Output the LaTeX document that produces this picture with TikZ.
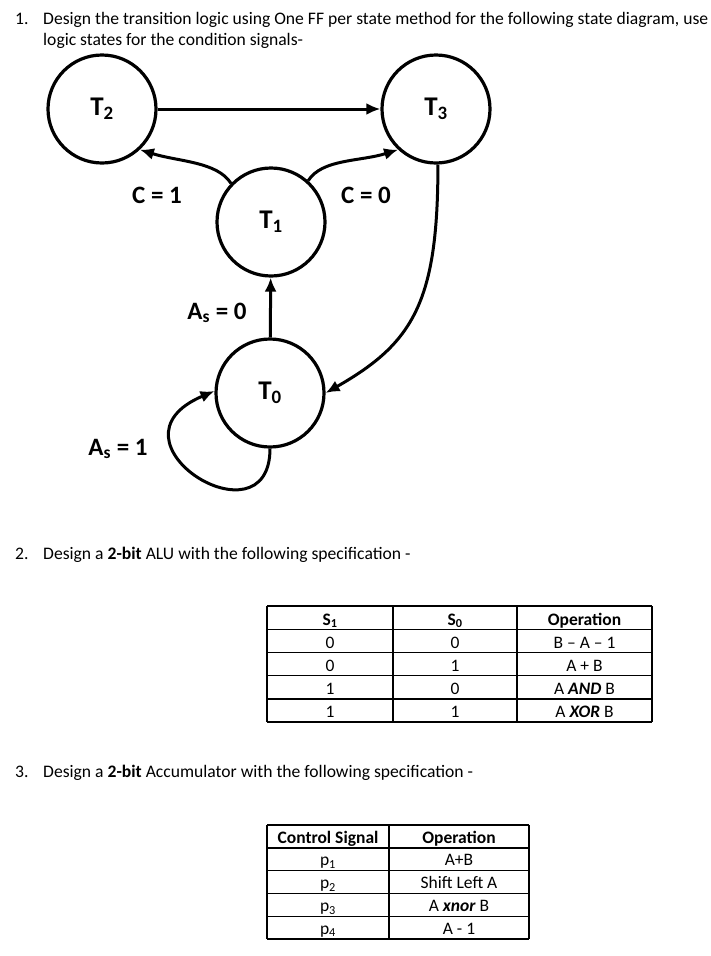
\documentclass[tikz,border=0pt]{standalone}
\usepackage{fontspec}
\setmainfont{Carlito}
\usetikzlibrary{arrows.meta}

\begin{document}
\begin{tikzpicture}[x=1pt,y=-1pt,
  state/.style={draw,circle,line width=3.2pt,minimum size=108pt,inner sep=0pt,font=\fontsize{27}{27}\selectfont\bfseries},
  cond/.style={anchor=base,font=\fontsize{25}{25}\selectfont\bfseries},
  trans/.style={-{Latex[length=14pt,width=12pt]},line width=3pt},
  head/.style={anchor=base west,inner sep=0pt,font=\fontsize{17.6}{22}\selectfont},
  tabline/.style={line width=1.4pt},
  cell/.style={anchor=base,inner sep=0pt,font=\fontsize{17.5}{17.5}\selectfont}]
  \useasboundingbox[fill=white] (0,0) rectangle (711,956);

  \node[head] (num1) at (15,24) {1.};
  \node[head] (q1a) at (43,24) {Design the transition logic using One FF per state method for the following state diagram, use};
  \node[head] (q1b) at (43,45) {logic states for the condition signals-};

  \node[state] (t2) at (102,109) {T\textsubscript{2}};
  \node[state] (t3) at (436,109) {T\textsubscript{3}};
  \node[state] (t1) at (271,222) {T\textsubscript{1}};
  \node[state] (t0) at (270,393) {T\textsubscript{0}};

  \draw[trans] (t2) -- (t3);
  \draw[trans] (t1.136) .. controls +(-14,-22) and +(38,12) .. (t2.-47);
  \draw[trans] (t1.48) .. controls +(14,-22) and +(-38,12) .. (t3.-133);
  \draw[trans] (t3.-88) .. controls +(0,137) and +(88,-50) .. (t0.east);
  \draw[trans] (t0.-90) .. controls +(0,100) and +(-118,50) .. (t0.178);
  \draw[trans] (t0) -- (t1);

  \node[cond] (c1) at (157,203) {C = 1};
  \node[cond] (c0) at (366,203) {C = 0};
  \node[cond] (as0) at (217,319) {A\textsubscript{s} = 0};
  \node[cond] (as1) at (118,455) {A\textsubscript{s} = 1};

  \node[head] (num2) at (15,559) {2.};
  \node[head] (q2) at (43,559) {Design a \textbf{2-bit} ALU with the following specification -};

  \foreach \y in {606,629.2,652.4,675.6,698.8,722} \draw[tabline] (267,\y)--(652,\y);
  \foreach \x in {267,393,517,652} \draw[tabline] (\x,606)--(\x,722);
  \node[cell] (s1h) at (330,625) {\textbf{S\textsubscript{1}}};
  \node[cell] (s0h) at (455,625) {\textbf{S\textsubscript{0}}};
  \node[cell] (oph) at (584.5,625) {\textbf{Operation}};
  \foreach \a/\b/\op [count=\i] in {0/0/{B -- A -- 1},0/1/{A + B},1/0/{A \textbf{\textit{AND}} B},1/1/{A \textbf{\textit{XOR}} B}}{
    \node[cell] (s1-\i) at (330,625+23.2*\i) {\a};
    \node[cell] (s0-\i) at (455,625+23.2*\i) {\b};
    \node[cell] (op-\i) at (584.5,625+23.2*\i) {\op};
  }

  \node[head] (num3) at (15,777) {3.};
  \node[head] (q3) at (43,777) {Design a \textbf{2-bit} Accumulator with the following specification -};

  \foreach \y in {825,847.8,870.6,893.4,916.2,939} \draw[tabline] (267,\y)--(529,\y);
  \foreach \x in {267,389,529} \draw[tabline] (\x,825)--(\x,939);
  \node[cell] (csh) at (328,843) {\textbf{Control Signal}};
  \node[cell] (aoh) at (459,843) {\textbf{Operation}};
  \foreach \op [count=\i] in {A+B,Shift Left A,{A \textbf{\textit{xnor}} B},A - 1}{
    \node[cell] (p-\i) at (328,843+22.8*\i) {p\textsubscript{\i}};
    \node[cell] (ao-\i) at (459,843+22.8*\i) {\op};
  }
\end{tikzpicture}
\end{document}
